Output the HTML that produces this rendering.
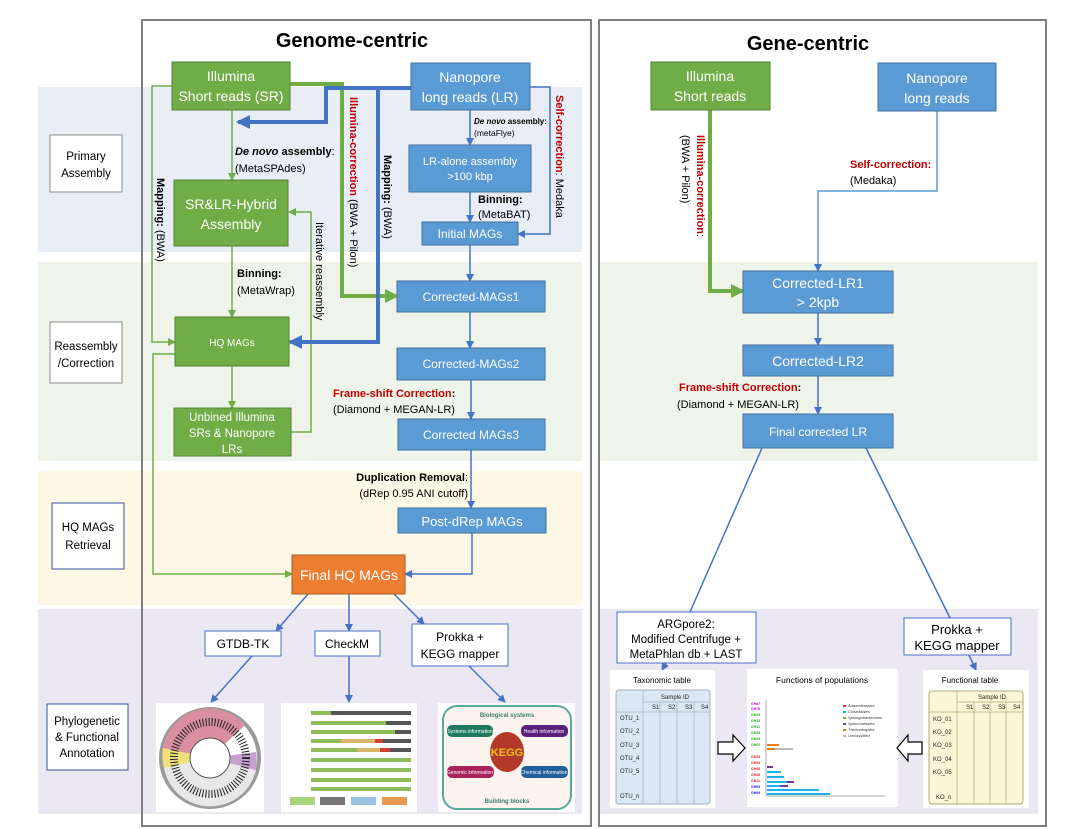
<!DOCTYPE html>
<html><head><meta charset="utf-8"><style>
html,body{margin:0;padding:0;background:#fff}
svg{display:block;font-family:"Liberation Sans",sans-serif}
</style></head><body>
<svg width="1080" height="829" viewBox="0 0 1080 829" xmlns="http://www.w3.org/2000/svg">
<defs>
<marker id="ab" markerWidth="8" markerHeight="8" refX="7" refY="4" orient="auto" markerUnits="userSpaceOnUse"><path d="M0,0 L8,4 L0,8 z" fill="#4472c4"/></marker>
<marker id="abL" markerWidth="14" markerHeight="14" refX="12" refY="7" orient="auto" markerUnits="userSpaceOnUse"><path d="M0,0 L14,7 L0,14 z" fill="#4472c4"/></marker>
<marker id="ag" markerWidth="8" markerHeight="8" refX="7" refY="4" orient="auto" markerUnits="userSpaceOnUse"><path d="M0,0 L8,4 L0,8 z" fill="#70ad47"/></marker>
<marker id="agL" markerWidth="14" markerHeight="14" refX="12" refY="7" orient="auto" markerUnits="userSpaceOnUse"><path d="M0,0 L14,7 L0,14 z" fill="#70ad47"/></marker>
</defs>
<!-- bands -->
<rect x="38" y="87" width="544" height="165" fill="#e9edf6"/>
<rect x="38" y="262" width="544" height="199" fill="#eef4ea"/>
<rect x="38" y="471" width="544" height="134" fill="#fdf8e6"/>
<rect x="38" y="609" width="544" height="205" fill="#ece8f3"/>
<rect x="600" y="262" width="438" height="199" fill="#eef4ea"/>
<rect x="600" y="609" width="438" height="205" fill="#ece8f3"/>
<!-- panels -->
<rect x="142" y="20" width="449" height="806" fill="none" stroke="#7f7f7f" stroke-width="2"/>
<rect x="599" y="20" width="447" height="806" fill="none" stroke="#7f7f7f" stroke-width="2"/>
<text x="352" y="47" font-size="20" font-weight="bold" text-anchor="middle">Genome-centric</text>
<text x="808" y="50" font-size="20" font-weight="bold" text-anchor="middle">Gene-centric</text>
<!-- left labels -->
<g font-size="11.5" text-anchor="middle" fill="#000">
<rect x="50" y="135" width="72" height="57" fill="#fff" stroke="#8c8c8c"/>
<text x="86" y="160">Primary</text><text x="86" y="177">Assembly</text>
<rect x="50" y="322" width="72" height="61" fill="#fff" stroke="#8c8c8c"/>
<text x="86" y="350">Reassembly</text><text x="86" y="367">/Correction</text>
<rect x="52" y="503" width="72" height="66" fill="#fff" stroke="#2f5597"/>
<text x="88" y="531">HQ MAGs</text><text x="88" y="549">Retrieval</text>
<rect x="47" y="704" width="81" height="66" fill="#fff" stroke="#2f5597"/>
<text x="87" y="725">Phylogenetic</text><text x="87" y="741">&amp; Functional</text><text x="87" y="757">Annotation</text>
</g>
<!-- left connectors -->
<g fill="none" stroke-width="1.5">
<path d="M232,110 V180" stroke="#70ad47" marker-end="url(#ag)"/>
<path d="M172,86 H152 V342 H175" stroke="#70ad47" marker-end="url(#ag)"/>
<path d="M232,246 V317" stroke="#70ad47" marker-end="url(#ag)"/>
<path d="M232,366 V408" stroke="#70ad47" marker-end="url(#ag)"/>
<path d="M291,432 H311 V212 H289" stroke="#70ad47" marker-end="url(#ag)"/>
<path d="M175,354 H153 V574 H292" stroke="#70ad47" marker-end="url(#ag)"/>
<path d="M290,84 H342 V296 H397" stroke="#70ad47" stroke-width="4" marker-end="url(#agL)"/>
<path d="M411,88 H326 V122 H238" stroke="#4472c4" stroke-width="4" marker-end="url(#abL)"/>
<path d="M378,88 V342 H290" stroke="#4472c4" stroke-width="4" marker-end="url(#abL)"/>
<path d="M470,110 V145" stroke="#4472c4" marker-end="url(#ab)"/>
<path d="M470,192 V222" stroke="#4472c4" marker-end="url(#ab)"/>
<path d="M530,87 H550 V234 H518" stroke="#4472c4" marker-end="url(#ab)"/>
<path d="M470,245 V281" stroke="#4472c4" marker-end="url(#ab)"/>
<path d="M470,312 V348" stroke="#4472c4" marker-end="url(#ab)"/>
<path d="M471,380 V419" stroke="#4472c4" marker-end="url(#ab)"/>
<path d="M471,450 V508" stroke="#4472c4" marker-end="url(#ab)"/>
<path d="M472,533 V574 H405" stroke="#4472c4" marker-end="url(#ab)"/>
<path d="M308,594 L276,631" stroke="#4472c4" marker-end="url(#ab)"/>
<path d="M349,594 V631" stroke="#4472c4" marker-end="url(#ab)"/>
<path d="M394,594 L424,624" stroke="#4472c4" marker-end="url(#ab)"/>
<path d="M252,656 L211,702" stroke="#4472c4" marker-end="url(#ab)"/>
<path d="M349,656 V702" stroke="#4472c4" marker-end="url(#ab)"/>
<path d="M469,666 L505,702" stroke="#4472c4" marker-end="url(#ab)"/>
</g>
<!-- left nodes -->
<g font-size="13.5" fill="#fff" text-anchor="middle">
<rect x="172" y="62" width="118" height="48" fill="#70ad47" stroke="#548235"/>
<text x="231" y="81" font-size="14">Illumina</text><text x="231" y="101" font-size="14">Short reads (SR)</text>
<rect x="411" y="63" width="119" height="47" fill="#5b9bd5" stroke="#41719c"/>
<text x="470" y="82" font-size="14">Nanopore</text><text x="470" y="102" font-size="14">long reads (LR)</text>
<rect x="409" y="145" width="122" height="47" fill="#5b9bd5" stroke="#41719c"/>
<text x="470" y="165" font-size="11">LR-alone assembly</text><text x="470" y="180" font-size="11">&gt;100 kbp</text>
<rect x="422" y="222" width="96" height="23" fill="#5b9bd5" stroke="#41719c"/>
<text x="470" y="238" font-size="12">Initial MAGs</text>
<rect x="174" y="180" width="114" height="66" fill="#70ad47" stroke="#548235"/>
<text x="231" y="209" font-size="14">SR&amp;LR-Hybrid</text><text x="231" y="229" font-size="14">Assembly</text>
<rect x="397" y="281" width="148" height="31" fill="#5b9bd5" stroke="#41719c"/>
<text x="471" y="301" font-size="12">Corrected-MAGs1</text>
<rect x="175" y="317" width="114" height="49" fill="#70ad47" stroke="#548235"/>
<text x="232" y="346" font-size="10">HQ MAGs</text>
<rect x="397" y="348" width="148" height="32" fill="#5b9bd5" stroke="#41719c"/>
<text x="471" y="368" font-size="12">Corrected-MAGs2</text>
<rect x="174" y="408" width="117" height="48" fill="#70ad47" stroke="#548235"/>
<text x="232" y="421" font-size="11.5">Unbined Illumina</text><text x="232" y="437" font-size="11.5">SRs &amp; Nanopore</text><text x="232" y="453" font-size="11.5">LRs</text>
<rect x="398" y="419" width="147" height="31" fill="#5b9bd5" stroke="#41719c"/>
<text x="471" y="439" font-size="12">Corrected MAGs3</text>
<rect x="398" y="508" width="148" height="25" fill="#5b9bd5" stroke="#41719c"/>
<text x="472" y="526" font-size="13">Post-dRep MAGs</text>
<rect x="292" y="555" width="113" height="39" fill="#ed7d31" stroke="#ae5a21"/>
<text x="349" y="580" font-size="14">Final HQ MAGs</text>
</g>
<g font-size="12" fill="#000" text-anchor="middle">
<rect x="205" y="631" width="76" height="25" fill="#fff" stroke="#4472c4"/>
<text x="243" y="648">GTDB-TK</text>
<rect x="315" y="631" width="65" height="25" fill="#fff" stroke="#4472c4"/>
<text x="347" y="648">CheckM</text>
<rect x="412" y="624" width="96" height="42" fill="#fff" stroke="#4472c4"/>
<text x="460" y="641">Prokka +</text><text x="460" y="658">KEGG mapper</text>
</g>
<!-- left labels -->
<g font-size="11" fill="#000">
<text x="235" y="155"><tspan font-weight="bold" font-style="italic">De novo</tspan><tspan font-weight="bold"> assembly</tspan>:</text>
<text x="235" y="172">(MetaSPAdes)</text>
<text x="474" y="124" font-size="8"><tspan font-weight="bold" font-style="italic">De novo</tspan><tspan font-weight="bold"> assembly:</tspan></text>
<text x="474" y="136" font-size="8.5">(metaFlye)</text>
<text x="478" y="203" font-weight="bold">Binning:</text>
<text x="478" y="218">(MetaBAT)</text>
<text x="237" y="277" font-weight="bold">Binning:</text>
<text x="237" y="294">(MetaWrap)</text>
<text x="333" y="397" font-weight="bold" fill="#c00000">Frame-shift Correction<tspan fill="#000">:</tspan></text>
<text x="333" y="413">(Diamond + MEGAN-LR)</text>
<text x="468" y="481" font-weight="bold" text-anchor="end">Duplication Removal<tspan font-weight="normal">:</tspan></text>
<text x="468" y="497" text-anchor="end">(dRep 0.95 ANI cutoff)</text>
<text transform="translate(157,178) rotate(90)"><tspan font-weight="bold">Mapping:</tspan> (BWA)</text>
<text transform="translate(350,97) rotate(90)"><tspan font-weight="bold" fill="#c00000">Illumina-correction</tspan> (BWA + Pilon)</text>
<text transform="translate(384,155) rotate(90)"><tspan font-weight="bold">Mapping:</tspan> (BWA)</text>
<text transform="translate(556,95) rotate(90)"><tspan font-weight="bold" fill="#c00000">Self-correction</tspan>: Medaka</text>
<text transform="translate(316,222) rotate(90)">Iterative reassembly</text>
</g>
<!-- tree image -->
<rect x="156" y="703" width="108" height="109" fill="#fff"/>
<circle cx="210" cy="758" r="51" fill="#9a9a9a"/>
<circle cx="210" cy="758" r="47" fill="#fff"/>
<path d="M210,758 L163,748 A47,47 0 0 1 245,725 Z" fill="#d98fa0"/>
<path d="M210,758 L163,748 A47,47 0 0 0 164,768 Z" fill="#f0e07a"/>
<path d="M210,758 L256,752 A47,47 0 0 1 253,778 Z" fill="#c7a0d0"/>
<path d="M210,758 L164,768 A47,47 0 0 0 256,770 Z" fill="#e8e8e8"/>
<circle cx="210" cy="758" r="36" fill="none" stroke="#222" stroke-width="8" stroke-dasharray="1 2"/>
<circle cx="210" cy="758" r="20" fill="#fff" stroke="#555"/>
<!-- checkm image -->
<rect x="281" y="703" width="136" height="109" fill="#fff"/>
<g>
<rect x="311" y="711" width="100" height="4" fill="#555"/><rect x="311" y="711" width="20" height="4" fill="#8fbc5a"/>
<rect x="311" y="721" width="100" height="4" fill="#555"/><rect x="311" y="721" width="75" height="4" fill="#8fbc5a"/>
<rect x="311" y="730" width="100" height="4" fill="#555"/><rect x="311" y="730" width="84" height="4" fill="#8fbc5a"/>
<rect x="311" y="739" width="100" height="4" fill="#555"/><rect x="311" y="739" width="30" height="4" fill="#8fbc5a"/><rect x="341" y="739" width="40" height="4" fill="#d9b36a"/><rect x="375" y="739" width="8" height="4" fill="#d04030"/>
<rect x="311" y="748" width="100" height="4" fill="#555"/><rect x="311" y="748" width="46" height="4" fill="#8fbc5a"/><rect x="357" y="748" width="30" height="4" fill="#d9b36a"/><rect x="380" y="748" width="10" height="4" fill="#d04030"/>
<rect x="311" y="758" width="100" height="4" fill="#8fbc5a"/>
<rect x="311" y="768" width="100" height="4" fill="#8fbc5a"/>
<rect x="311" y="778" width="100" height="4" fill="#8fbc5a"/>
<rect x="311" y="787" width="100" height="4" fill="#8fbc5a"/>
<rect x="290" y="797" width="25" height="8" fill="#a8d47a"/><rect x="320" y="797" width="25" height="8" fill="#777"/><rect x="351" y="797" width="25" height="8" fill="#9cc3e4"/><rect x="382" y="797" width="25" height="8" fill="#e79b4e"/>
</g>
<!-- kegg image -->
<rect x="438" y="703" width="137" height="109" fill="#fff"/>
<rect x="443" y="706" width="128" height="103" rx="14" fill="#fbf4ee" stroke="#5aa9a0" stroke-width="2"/>
<g font-size="5" fill="#fff" text-anchor="middle">
<rect x="447" y="725" width="46" height="12" rx="5" fill="#1d7a5f"/><text x="470" y="733">Systems information</text>
<rect x="521" y="725" width="47" height="12" rx="5" fill="#5a1f7a"/><text x="544" y="733">Health information</text>
<rect x="447" y="766" width="47" height="12" rx="5" fill="#a8225a"/><text x="470" y="774">Genomic information</text>
<rect x="521" y="766" width="47" height="12" rx="5" fill="#1f5f9a"/><text x="544" y="774">Chemical information</text>
</g>
<ellipse cx="507" cy="752" rx="17" ry="20" fill="#b23a2a"/>
<text x="507" y="756" font-size="11" font-weight="bold" fill="#f0c020" text-anchor="middle">KEGG</text>
<text x="507" y="717" font-size="6" fill="#3a7a6a" text-anchor="middle" font-weight="bold">Biological systems</text>
<text x="507" y="803" font-size="6" fill="#3a7a6a" text-anchor="middle" font-weight="bold">Building blocks</text>

<!-- right connectors -->
<g fill="none">
<path d="M710,110 V291 H743" stroke="#70ad47" stroke-width="4" marker-end="url(#agL)"/>
<path d="M937,111 V191 H818 V271" stroke="#5b9bd5" stroke-width="1.5" marker-end="url(#ab)"/>
<path d="M818,313 V345" stroke="#4472c4" stroke-width="1.5" marker-end="url(#ab)"/>
<path d="M818,376 V414" stroke="#4472c4" stroke-width="1.5" marker-end="url(#ab)"/>
<path d="M762,448 L690,612" stroke="#4472c4" stroke-width="1.5"/>
<path d="M866,448 L950,618" stroke="#4472c4" stroke-width="1.5"/>
<path d="M666,663 L662,670" stroke="#4472c4" stroke-width="1.5" marker-end="url(#ab)"/>
<path d="M969,655 L976,670" stroke="#4472c4" stroke-width="1.5" marker-end="url(#ab)"/>
</g>
<g fill="#fff" text-anchor="middle">
<rect x="651" y="62" width="119" height="48" fill="#70ad47" stroke="#548235"/>
<text x="710" y="81" font-size="14">Illumina</text><text x="710" y="101" font-size="14">Short reads</text>
<rect x="878" y="63" width="118" height="48" fill="#5b9bd5" stroke="#41719c"/>
<text x="937" y="83" font-size="14">Nanopore</text><text x="937" y="103" font-size="14">long reads</text>
<rect x="743" y="271" width="150" height="42" fill="#5b9bd5" stroke="#41719c"/>
<text x="818" y="288" font-size="14">Corrected-LR1</text><text x="818" y="307" font-size="14">&gt; 2kpb</text>
<rect x="743" y="345" width="150" height="31" fill="#5b9bd5" stroke="#41719c"/>
<text x="818" y="366" font-size="14">Corrected-LR2</text>
<rect x="743" y="414" width="150" height="34" fill="#5b9bd5" stroke="#41719c"/>
<text x="818" y="436" font-size="12">Final corrected LR</text>
</g>
<g font-size="11" fill="#000">
<text x="850" y="168" font-weight="bold" fill="#c00000">Self-correction:</text>
<text x="850" y="184">(Medaka)</text>
<text x="679" y="391" font-weight="bold" fill="#c00000">Frame-shift Correction<tspan fill="#000">:</tspan></text>
<text x="677" y="408">(Diamond + MEGAN-LR)</text>
<text transform="translate(697,135) rotate(90)"><tspan font-weight="bold" fill="#c00000">Illumina-correction</tspan>:</text>
<text transform="translate(682,135) rotate(90)">(BWA + Pilon)</text>
</g>
<g font-size="11.5" text-anchor="middle">
<rect x="617" y="612" width="139" height="51" fill="#fff" stroke="#4472c4"/>
<text x="686" y="628">ARGpore2:</text><text x="686" y="643">Modified Centrifuge +</text><text x="686" y="658">MetaPhlan db + LAST</text>
<rect x="904" y="618" width="107" height="37" fill="#fff" stroke="#4472c4"/>
<text x="957" y="634" font-size="13">Prokka +</text><text x="957" y="650" font-size="13">KEGG mapper</text>
</g>
<!-- taxonomic table -->
<rect x="610" y="670" width="105" height="138" fill="#fff"/>
<text x="662" y="683" font-size="8" text-anchor="middle">Taxonomic table</text>
<rect x="616" y="690" width="94" height="114" rx="3" fill="#dbe8f4" stroke="#9fb0c0"/>
<g font-size="6" fill="#222">
<text x="675" y="699" text-anchor="middle">Sample ID</text>
<text x="652" y="709">S1</text><text x="668" y="709">S2</text><text x="685" y="709">S3</text><text x="701" y="709">S4</text>
<text x="620" y="720">OTU_1</text><text x="620" y="733">OTU_2</text><text x="620" y="747">OTU_3</text><text x="620" y="760">OTU_4</text><text x="620" y="773">OTU_5</text><text x="620" y="798">OTU_n</text>
</g>
<g stroke="#9fb0c0" stroke-width="0.7">
<line x1="643" y1="690" x2="643" y2="804"/><line x1="643" y1="702" x2="710" y2="702"/><line x1="616" y1="712" x2="710" y2="712"/>
<line x1="660" y1="702" x2="660" y2="804"/><line x1="677" y1="702" x2="677" y2="804"/><line x1="694" y1="702" x2="694" y2="804"/>
</g>
<!-- functions chart -->
<rect x="747" y="669" width="151" height="138" fill="#fff"/>
<text x="822" y="683" font-size="8.5" text-anchor="middle">Functions of populations</text>
<g>
<rect x="767" y="776" width="17" height="2" fill="#19b4e8"/>
<rect x="767" y="781" width="20" height="2" fill="#19b4e8"/><rect x="787" y="781" width="7" height="2" fill="#6a3f9a"/>
<rect x="767" y="785" width="18" height="2" fill="#19b4e8"/><rect x="780" y="785" width="8" height="2" fill="#6a3f9a"/>
<rect x="767" y="789" width="52" height="2" fill="#19b4e8"/>
<rect x="767" y="793" width="63" height="2" fill="#19b4e8"/>
<rect x="767" y="771" width="14" height="2" fill="#19b4e8"/>
<rect x="767" y="766" width="6" height="2" fill="#6a3f9a"/>
<rect x="767" y="748" width="8" height="2" fill="#e67e22"/><rect x="775" y="748" width="18" height="2" fill="#bbb"/>
<rect x="767" y="744" width="12" height="2" fill="#e67e22"/>
<line x1="766" y1="700" x2="766" y2="796" stroke="#555" stroke-width="0.5"/>
<line x1="766" y1="796" x2="885" y2="796" stroke="#555" stroke-width="0.5"/>
</g>
<g font-size="3.5" font-weight="bold">
<text x="751" y="705" fill="#c0c">GH67</text><text x="751" y="710" fill="#c0c">GH78</text>
<text x="751" y="716" fill="#2a2">GH39</text><text x="751" y="722" fill="#2a2">GH35</text><text x="751" y="728" fill="#2a2">GH42</text><text x="751" y="734" fill="#2a2">GH38</text><text x="751" y="740" fill="#2a2">GH29</text><text x="751" y="746" fill="#2a2">GH02</text>
<text x="751" y="758" fill="#d22">GH28</text><text x="751" y="764" fill="#d22">GH53</text><text x="751" y="770" fill="#d22">GH08</text><text x="751" y="776" fill="#d22">GH26</text><text x="751" y="782" fill="#d22">GH11</text>
<text x="751" y="788" fill="#22d">GH05</text><text x="751" y="794" fill="#22d">GH09</text>
</g>
<g font-size="4" font-style="italic" fill="#333">
<rect x="843" y="705" width="3" height="2" fill="#d33"/><text x="848" y="707">Anaerolineales</text>
<rect x="843" y="711" width="3" height="2" fill="#19b4e8"/><text x="848" y="713">Clostridiales</text>
<rect x="843" y="717" width="3" height="2" fill="#7a3"/><text x="848" y="719">Sphingobacteriales</text>
<rect x="843" y="723" width="3" height="2" fill="#6a3f9a"/><text x="848" y="725">Spirochaetales</text>
<rect x="843" y="729" width="3" height="2" fill="#e67e22"/><text x="848" y="731">Thermotogales</text>
<rect x="843" y="735" width="3" height="2" fill="#bbb"/><text x="848" y="737">Unclassified</text>
</g>
<!-- hollow arrows -->
<path d="M718,742 H733 V735 L745,748 L733,761 V754 H718 Z" fill="#fff" stroke="#000" stroke-width="1.2"/>
<path d="M922,742 H908 V735 L897,748 L908,761 V754 H922 Z" fill="#fff" stroke="#000" stroke-width="1.2"/>
<!-- functional table -->
<rect x="923" y="670" width="106" height="138" fill="#fff"/>
<text x="970" y="683" font-size="8" text-anchor="middle">Functional table</text>
<rect x="929" y="691" width="94" height="113" rx="3" fill="#fbf6d6" stroke="#b0a880"/>
<g font-size="6" fill="#222">
<text x="992" y="699" text-anchor="middle">Sample ID</text>
<text x="966" y="709">S1</text><text x="982" y="709">S2</text><text x="998" y="709">S3</text><text x="1013" y="709">S4</text>
<text x="933" y="721">KO_01</text><text x="933" y="734">KO_02</text><text x="933" y="747">KO_03</text><text x="933" y="761">KO_04</text><text x="933" y="774">KO_05</text><text x="936" y="799">KO_n</text>
</g>
<g stroke="#b0a880" stroke-width="0.7">
<line x1="957" y1="691" x2="957" y2="804"/><line x1="957" y1="702" x2="1023" y2="702"/><line x1="929" y1="712" x2="1023" y2="712"/>
<line x1="974" y1="702" x2="974" y2="804"/><line x1="990" y1="702" x2="990" y2="804"/><line x1="1006" y1="702" x2="1006" y2="804"/>
</g>
</svg>
</body></html>
